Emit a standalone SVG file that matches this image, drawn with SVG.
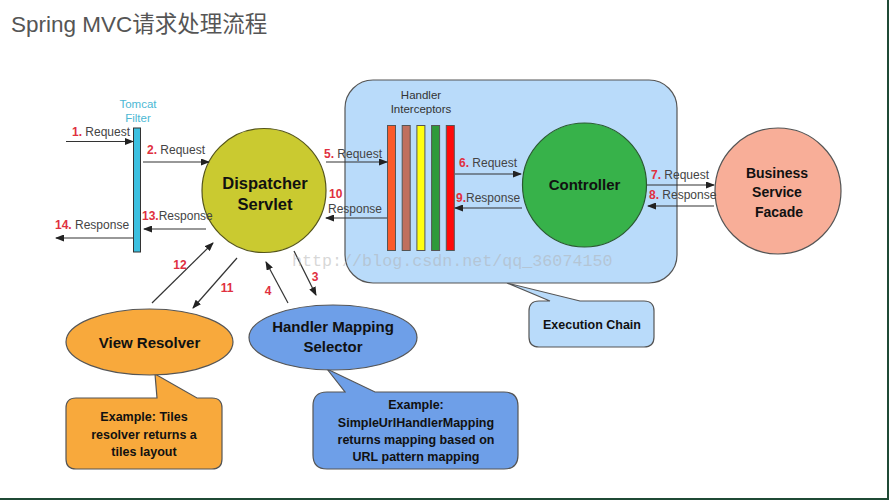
<svg xmlns="http://www.w3.org/2000/svg" width="889" height="500" viewBox="0 0 889 500">
<defs>
<marker id="ah" markerUnits="userSpaceOnUse" markerWidth="9" markerHeight="7" refX="8" refY="3.5" orient="auto">
<path d="M0,0 L9,3.5 L0,7 z" fill="#222"/>
</marker>
<style>
.ln{stroke:#333;stroke-width:1.2;fill:none;marker-end:url(#ah)}
.lbl{font-family:"Liberation Sans",Arial,sans-serif;font-size:12px;fill:#444}
.num{fill:#e03040;font-weight:bold}
.bn{font-family:"Liberation Sans",Arial,sans-serif;font-size:12px;font-weight:bold;fill:#e03040;text-anchor:middle}
.nt{font-family:"Liberation Sans",Arial,sans-serif;font-weight:bold;fill:#111;text-anchor:middle}
.sh{stroke:#555;stroke-width:1.2}
</style>
</defs>
<rect x="0" y="0" width="889" height="500" fill="#fff"/>
<rect x="887" y="0" width="2" height="500" fill="#1f4a35"/>
<rect x="0" y="498" width="889" height="2" fill="#1f4a35"/>
<text x="11" y="32" font-family="Liberation Sans,'Noto Sans CJK SC',sans-serif" font-size="22.5" fill="#555">Spring MVC请求处理流程</text>

<g id="execution-chain-callout">
<path class="sh" fill="#b9dbfa" d="M539,301 L550,301 L507,283 L580,301 L644,301 Q654,301 654,311 L654,337 Q654,347 644,347 L539,347 Q529,347 529,337 L529,311 Q529,301 539,301 Z"/>
<text class="nt" x="592" y="329" font-size="12.5">Execution Chain</text>
</g>
<g id="execution-chain">
<rect class="sh" x="345" y="80" width="332" height="203" rx="28" fill="#b9dbfa"/>
</g>

<g id="handler-interceptors">
<text x="421" y="99" font-family="Liberation Sans,Arial,sans-serif" font-size="11.5" fill="#333" text-anchor="middle">Handler</text>
<text x="421" y="113" font-family="Liberation Sans,Arial,sans-serif" font-size="11.5" fill="#333" text-anchor="middle">Interceptors</text>
<rect x="387.5" y="125.5" width="8" height="125" fill="#fa5a2a" stroke="#555"/>
<rect x="402.2" y="125.5" width="8" height="125" fill="#c0705f" stroke="#555"/>
<rect x="416.9" y="125.5" width="8" height="125" fill="#ffff10" stroke="#555"/>
<rect x="431.6" y="125.5" width="8" height="125" fill="#2f9a3a" stroke="#555"/>
<rect x="446.3" y="125.5" width="8" height="125" fill="#ff0a0a" stroke="#555"/>
</g>

<g id="tomcat-filter">
<text x="138" y="108" font-family="Liberation Sans,Arial,sans-serif" font-size="11.5" fill="#4cb8d4" text-anchor="middle">Tomcat</text>
<text x="138" y="122" font-family="Liberation Sans,Arial,sans-serif" font-size="11.5" fill="#4cb8d4" text-anchor="middle">Filter</text>
<rect x="133.5" y="128" width="7" height="124" fill="#3cc0e0" stroke="#333"/>
</g>

<g id="dispatcher-servlet">
<circle cx="264" cy="190.5" r="62" fill="#caca30" stroke="#55551a" stroke-width="1.2"/>
<text class="nt" x="265" y="189" font-size="16.5">Dispatcher</text>
<text class="nt" x="265" y="210" font-size="16.5">Servlet</text>
</g>

<g id="controller">
<circle cx="584.5" cy="185" r="62" fill="#37b24a" stroke="#2a5a30" stroke-width="1.2"/>
<text class="nt" x="584.5" y="190" font-size="15">Controller</text>
</g>

<g id="business-service-facade">
<circle cx="778" cy="191" r="63" fill="#f8ae98" stroke="#555" stroke-width="1.2"/>
<text class="nt" x="777" y="178" font-size="14">Business</text>
<text class="nt" x="777" y="197" font-size="14">Service</text>
<text class="nt" x="779" y="217" font-size="14">Facade</text>
</g>

<g id="view-resolver-callout">
<path class="sh" fill="#f8a93c" d="M76,398 L157,398 L155,374 L197,398 L212,398 Q222,398 222,408 L222,459 Q222,469 212,469 L76,469 Q66,469 66,459 L66,408 Q66,398 76,398 Z"/>
<text class="nt" x="144" y="421" font-size="12.5">Example: Tiles</text>
<text class="nt" x="144" y="439" font-size="12.5">resolver returns a</text>
<text class="nt" x="144" y="456" font-size="12.5">tiles layout</text>
</g>
<g id="view-resolver">
<ellipse cx="149.5" cy="342" rx="83.5" ry="33" fill="#f8a93c" stroke="#555" stroke-width="1.2"/>
<text class="nt" x="149.5" y="348" font-size="15">View Resolver</text>
</g>

<g id="handler-mapping-callout">
<path class="sh" fill="#6e9fe8" d="M327,392 L345,392 L327,369 L375,392 L504,392 Q518,392 518,406 L518,455 Q518,469 504,469 L327,469 Q313,469 313,455 L313,406 Q313,392 327,392 Z"/>
<text class="nt" x="416" y="409" font-size="12.5">Example:</text>
<text class="nt" x="416" y="427" font-size="12.5">SimpleUrlHandlerMapping</text>
<text class="nt" x="416" y="444" font-size="12.5">returns mapping based on</text>
<text class="nt" x="416" y="461" font-size="12.5">URL pattern mapping</text>
</g>
<g id="handler-mapping-selector">
<ellipse cx="333" cy="337.5" rx="84" ry="32.5" fill="#6e9fe8" stroke="#555" stroke-width="1.2"/>
<text class="nt" x="333" y="332" font-size="15">Handler Mapping</text>
<text class="nt" x="333" y="352" font-size="15">Selector</text>
</g>

<g id="connectors">
<path class="ln" d="M66,141.5 H133"/>
<path class="ln" d="M143,162 H209"/>
<path class="ln" d="M206,229 H144"/>
<path class="ln" d="M133,238 H56"/>
<path class="ln" d="M326,162 H387"/>
<path class="ln" d="M387,218 H326"/>
<path class="ln" d="M455,174 H521"/>
<path class="ln" d="M522,208 H455"/>
<path class="ln" d="M647,185 H714"/>
<path class="ln" d="M714,206 H648"/>
<path class="ln" d="M152,303 L213,243"/>
<path class="ln" d="M237,258 L193,308"/>
<path class="ln" d="M288,303 L266,262"/>
<path class="ln" d="M294,251 L316,295"/>
<text class="lbl" x="72" y="136"><tspan class="num">1.</tspan> Request</text>
<text class="lbl" x="147" y="154"><tspan class="num">2.</tspan> Request</text>
<text class="lbl" x="142" y="220"><tspan class="num">13.</tspan>Response</text>
<text class="lbl" x="55" y="229"><tspan class="num">14.</tspan> Response</text>
<text class="lbl" x="324" y="158"><tspan class="num">5.</tspan> Request</text>
<text class="lbl" x="329" y="198"><tspan class="num">10</tspan></text>
<text class="lbl" x="328" y="213">Response</text>
<text class="lbl" x="459" y="167"><tspan class="num">6.</tspan> Request</text>
<text class="lbl" x="456" y="202"><tspan class="num">9.</tspan>Response</text>
<text class="lbl" x="651" y="179"><tspan class="num">7.</tspan> Request</text>
<text class="lbl" x="649" y="199"><tspan class="num">8.</tspan> Response</text>
<text class="bn" x="180" y="269">12</text>
<text class="bn" x="227" y="292">11</text>
<text class="bn" x="268" y="295">4</text>
<text class="bn" x="315" y="281">3</text>
</g>
<text x="292" y="266" font-family="Liberation Mono,monospace" font-size="16.7" fill="#b0b0b0" fill-opacity="0.5">http://blog.csdn.net/qq_36074150</text>
</svg>
